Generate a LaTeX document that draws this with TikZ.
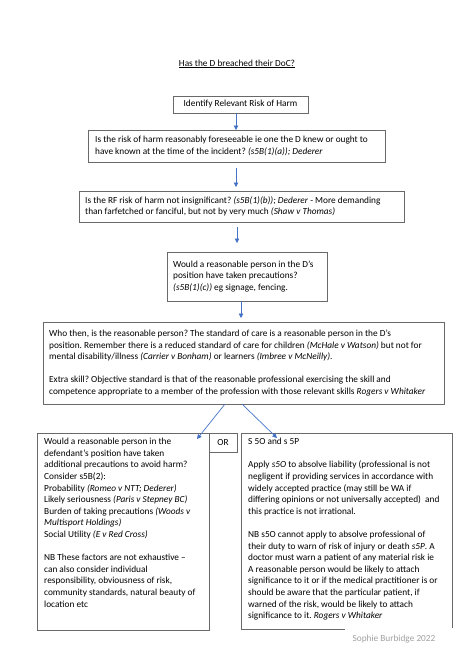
\documentclass[tikz,border=0pt]{standalone}
\usepackage{fontspec}
\setmainfont{Carlito}
\usetikzlibrary{arrows.meta,calc}
\definecolor{boxgray}{RGB}{105,105,105}
\definecolor{arrowblue}{RGB}{68,114,196}
\definecolor{footgray}{RGB}{160,160,160}
\newcommand{\bodyfont}{\fontsize{9.3}{11.6}\selectfont\frenchspacing}
\tikzset{
  box/.style={draw=boxgray, line width=0.8pt, rectangle, outer sep=0pt, inner sep=0pt, anchor=north west},
  txt/.style={inner sep=0pt, anchor=west, align=left, font=\bodyfont},
  conn/.style={draw=arrowblue, line width=0.7pt, -{Triangle[length=4.5pt,width=4.5pt]}}
}
\begin{document}
\begin{tikzpicture}[x=1pt,y=-1pt]
\useasboundingbox (0,0) rectangle (474,670);
\node[txt, anchor=center] (title) at (237,64) {\underline{Has the D breached their DoC?}};
% boxes
\node[box, minimum width=135pt, minimum height=17pt] (b1) at (173,96) {};
\node[box, minimum width=297pt, minimum height=32pt] (b2) at (88,130) {};
\node[box, minimum width=325pt, minimum height=31pt] (b3) at (79,191) {};
\node[box, minimum width=160pt, minimum height=49pt] (b4) at (167,252) {};
\node[box, minimum width=401pt, minimum height=82pt] (b5) at (43,322) {};
\node[box, minimum width=172pt, minimum height=197pt] (b6) at (37,433) {};
\node[box, minimum width=28pt, minimum height=19pt] (or) at (209,433) {};
\node[anchor=north west, minimum width=211pt, minimum height=196pt, inner sep=0pt, outer sep=0pt] (b7) at (241,433) {};
\draw[draw=boxgray, line width=0.8pt] ([xshift=104pt]b7.south west) -- (b7.south west) -- (b7.north west) -- (b7.north east) -- ([yshift=1pt]b7.south east);
% texts
\node[txt, anchor=center] (t1) at (b1.center) {Identify Relevant Risk of Harm};
\node[txt] (t2) at ([xshift=7pt]b2.west) {Is the risk of harm reasonably foreseeable ie one the D knew or ought to\\have known at the time of the incident? \textit{(s5B(1)(a)); Dederer}};
\node[txt] (t3) at ([xshift=6pt]b3.west) {Is the RF risk of harm not insignificant? \textit{(s5B(1)(b)); Dederer} - More demanding\\than farfetched or fanciful, but not by very much \textit{(Shaw v Thomas)}};
\node[txt] (t4) at ([xshift=6pt]b4.west) {Would a reasonable person in the D’s\\position have taken precautions?\\\textit{(s5B(1)(c))} eg signage, fencing.};
\node[txt] (t5) at ([xshift=6pt]b5.west) {Who then, is the reasonable person? The standard of care is a reasonable person in the D’s\\position. Remember there is a reduced standard of care for children \textit{(McHale v Watson)} but not for\\mental disability/illness \textit{(Carrier v Bonham)} or learners \textit{(Imbree v McNeilly)}.\\[11.6pt]Extra skill? Objective standard is that of the reasonable professional exercising the skill and\\competence appropriate to a member of the profession with those relevant skills \textit{Rogers v Whitaker}};
\node[txt, anchor=north west] (t6) at ([xshift=7pt,yshift=-5pt]b6.north west) {Would a reasonable person in the\\defendant’s position have taken\\additional precautions to avoid harm?\\Consider s5B(2):\\Probability \textit{(Romeo v NTT; Dederer)}\\Likely seriousness \textit{(Paris v Stepney BC)}\\Burden of taking precautions \textit{(Woods v}\\\textit{Multisport Holdings)}\\Social Utility \textit{(E v Red Cross)}\\[11.6pt]NB These factors are not exhaustive –\\can also consider individual\\responsibility, obviousness of risk,\\community standards, natural beauty of\\location etc};
\node[txt, anchor=center] (tor) at (or.center) {OR};
\node[txt, anchor=north west] (t7) at ([xshift=7pt,yshift=-5pt]b7.north west) {S 5O and s 5P\\[11.6pt]Apply \textit{s5O} to absolve liability (professional is not\\negligent if providing services in accordance with\\widely accepted practice (may still be WA if\\differing opinions or not universally accepted)~ and\\this practice is not irrational.\\[11.6pt]NB s5O cannot apply to absolve professional of\\their duty to warn of risk of injury or death \textit{s5P}. A\\doctor must warn a patient of any material risk ie\\A reasonable person would be likely to attach\\significance to it or if the medical practitioner is or\\should be aware that the particular patient, if\\warned of the risk, would be likely to attach\\significance to it. \textit{Rogers v Whitaker}};
\node[txt, anchor=center, text=footgray] (foot) at (394,639) {Sophie Burbidge 2022};
% connectors
\draw[conn] ([xshift=63pt]b1.south west) -- ([xshift=148pt]b2.north west);
\draw[conn, shorten <=6pt, shorten >=4pt] ([xshift=148pt]b2.south west) -- ([xshift=157pt]b3.north west);
\draw[conn, shorten <=5pt, shorten >=9pt] ([xshift=158pt]b3.south west) -- ([xshift=70pt]b4.north west);
\draw[conn, shorten >=4pt] ([xshift=74pt]b4.south west) -- ([xshift=198pt]b5.north west);
\coordinate (l6) at ([xshift=160pt,yshift=-6pt]b6.north west);
\coordinate (l7) at ([xshift=36pt,yshift=-5pt]b7.north west);
\draw[conn] ([xshift=182pt]b5.south west) -- (l6);
\draw[conn] ([xshift=199pt]b5.south west) -- (l7);
\end{tikzpicture}
\end{document}
